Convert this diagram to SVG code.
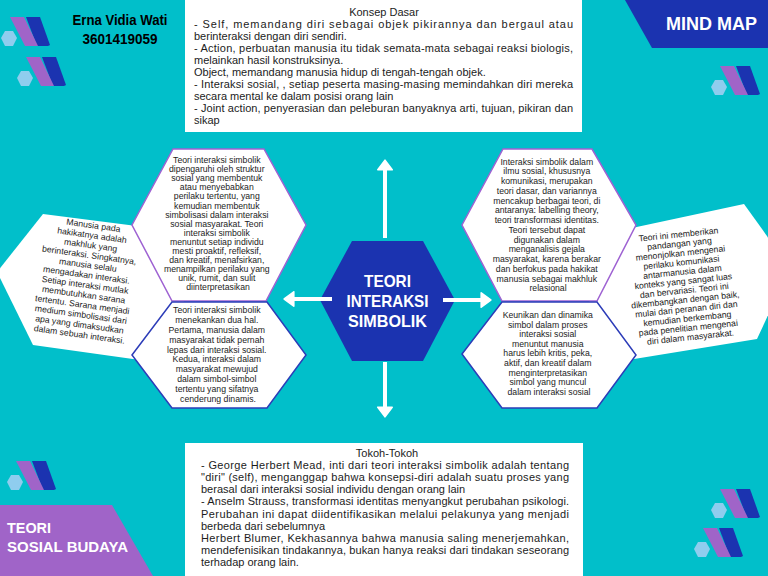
<svg xmlns="http://www.w3.org/2000/svg" width="768" height="576" viewBox="0 0 768 576">
<defs>
<style>
.hx{fill:#fff}
.hp{fill:#fff;stroke:#9E62D2;stroke-width:1.5}
.hb{fill:#fff;stroke:#2C3CB8;stroke-width:1.5}
.ht{font-family:"Liberation Sans",Arial,sans-serif;font-size:8.7px;fill:#1c1c1c;text-anchor:middle}
.bt{font-family:"Liberation Sans",Arial,sans-serif;font-size:11px;fill:#1c1c1c}
.wb{font-family:"Liberation Sans",Arial,sans-serif;font-weight:bold;fill:#fff}
.conn{stroke:#fff;stroke-width:4;fill:none;marker-end:url(#ah)}
</style>
<marker id="ah" viewBox="0 0 7 10" refX="1" refY="5" markerWidth="2.8" markerHeight="4" orient="auto" markerUnits="strokeWidth">
<path d="M0.5,0.5 L6.5,5 L0.5,9.5 Z" fill="#fff" stroke="#fff" stroke-width="1" stroke-linejoin="round"/>
</marker>
<g id="icon">
<polygon points="25,0 39,0 49,28 47,29 36,29" fill="#1B33B0"/>
<polygon points="0,21 4,14 12,14 16,21 12,29 4,29" fill="#8FCDEE"/>
<polygon points="9,0 23,0 37,29 24,29" fill="#A064C8"/>
</g>
</defs>
<rect width="768" height="576" fill="#01BFCA"/>

<g id="decor">
<use href="#icon" x="1" y="17"/>
<use href="#icon" x="17" y="57"/>
<use href="#icon" x="711" y="66"/>
<use href="#icon" x="7" y="461"/>
<use href="#icon" x="711" y="489"/>
<use href="#icon" x="694" y="528"/>
</g>

<g id="name">
<text x="120" y="25" font-family="Liberation Sans, Arial, sans-serif" font-weight="bold" font-size="14" text-anchor="middle" textLength="95" lengthAdjust="spacingAndGlyphs" fill="#000">Erna Vidia Wati</text>
<text x="120" y="44" font-family="Liberation Sans, Arial, sans-serif" font-weight="bold" font-size="14" text-anchor="middle" textLength="75" lengthAdjust="spacingAndGlyphs" fill="#000">3601419059</text>
</g>

<g id="mindmap-banner">
<polygon points="625,0 768,0 768,48 652,48" fill="#1B33B0"/>
<text class="wb" x="666" y="29.5" font-size="18" textLength="91" lengthAdjust="spacingAndGlyphs">MIND MAP</text>
</g>

<g id="sosial-banner">
<polygon points="0,505 112,505 153,576 0,576" fill="#A064C8"/>
<text class="wb" x="7" y="533" font-size="15" textLength="44" lengthAdjust="spacingAndGlyphs">TEORI</text>
<text class="wb" x="7" y="552" font-size="15" textLength="121" lengthAdjust="spacingAndGlyphs">SOSIAL BUDAYA</text>
</g>

<g id="node-far-left">
<polygon class="hx" points="-3,272 43,214 160,229 185,300 140,360 33,345"/>
<text class="ht" transform="rotate(8 87 280)">
<tspan x="87" y="228">Manusia pada</tspan>
<tspan x="87" y="238">hakikatnya adalah</tspan>
<tspan x="87" y="248">makhluk yang</tspan>
<tspan x="87" y="258">berinteraksi. Singkatnya,</tspan>
<tspan x="87" y="268">manusia selalu</tspan>
<tspan x="87" y="278">mengadakan interaksi.</tspan>
<tspan x="87" y="288">Setiap interaksi mutlak</tspan>
<tspan x="87" y="298">membutuhkan sarana</tspan>
<tspan x="87" y="308">tertentu. Sarana menjadi</tspan>
<tspan x="87" y="318">medium simbolisasi dari</tspan>
<tspan x="87" y="328">apa yang dimaksudkan</tspan>
<tspan x="87" y="338">dalam sebuah interaksi.</tspan>
</text>
</g>

<g id="node-far-right">
<polygon class="hx" points="588,300 618,231 744,204 790,268 757,339 628,360"/>
<text class="ht" transform="rotate(-6 685 285)">
<tspan x="685" y="237">Teori ini memberikan</tspan>
<tspan x="685" y="246.4">pandangan yang</tspan>
<tspan x="685" y="255.8">menonjolkan mengenai</tspan>
<tspan x="685" y="265.2">perilaku komunikasi</tspan>
<tspan x="685" y="274.6">antarmanusia dalam</tspan>
<tspan x="685" y="284">konteks yang sangat luas</tspan>
<tspan x="685" y="293.4">dan bervariasi. Teori ini</tspan>
<tspan x="685" y="302.8">dikembangkan dengan baik,</tspan>
<tspan x="685" y="312.2">mulai dari peranan diri dan</tspan>
<tspan x="685" y="321.6">kemudian berkembang</tspan>
<tspan x="685" y="331">pada penelitian mengenai</tspan>
<tspan x="685" y="340.4">diri dalam masyarakat.</tspan>
</text>
</g>

<g id="node-upper-left">
<polygon class="hp" points="132,225 173,149 264,149 306,225 266,301 172,301"/>
<text class="ht">
<tspan x="218" y="163">Teori interaksi simbolik</tspan>
<tspan x="218" y="172.1">dipengaruhi oleh struktur</tspan>
<tspan x="218" y="181.2">sosial yang membentuk</tspan>
<tspan x="218" y="190.3">atau menyebabkan</tspan>
<tspan x="218" y="199.4">perilaku tertentu, yang</tspan>
<tspan x="218" y="208.5">kemudian membentuk</tspan>
<tspan x="218" y="217.6">simbolisasi dalam interaksi</tspan>
<tspan x="218" y="226.7">sosial masyarakat. Teori</tspan>
<tspan x="218" y="235.8">interaksi simbolik</tspan>
<tspan x="218" y="244.9">menuntut setiap individu</tspan>
<tspan x="218" y="254">mesti proaktif, refleksif,</tspan>
<tspan x="218" y="263.1">dan kreatif, menafsirkan,</tspan>
<tspan x="218" y="272.2">menampilkan perilaku yang</tspan>
<tspan x="218" y="281.3">unik, rumit, dan sulit</tspan>
<tspan x="218" y="290.4">diinterpretasikan</tspan>
</text>
</g>

<g id="node-upper-right">
<polygon class="hp" points="462,225 503,149 592,149 636,225 597,301 502,301"/>
<text class="ht">
<tspan x="548" y="164.7">Interaksi simbolik dalam</tspan>
<tspan x="548" y="174.4">ilmu sosial, khususnya</tspan>
<tspan x="548" y="184.2">komunikasi, merupakan</tspan>
<tspan x="548" y="193.9">teori dasar, dan variannya</tspan>
<tspan x="548" y="203.7">mencakup berbagai teori, di</tspan>
<tspan x="548" y="213.4">antaranya: labelling theory,</tspan>
<tspan x="548" y="223.1">teori transformasi identitas.</tspan>
<tspan x="548" y="232.9">Teori tersebut dapat</tspan>
<tspan x="548" y="242.6">digunakan dalam</tspan>
<tspan x="548" y="252.4">menganalisis gejala</tspan>
<tspan x="548" y="262.1">masyarakat, karena berakar</tspan>
<tspan x="548" y="271.8">dan berfokus pada hakikat</tspan>
<tspan x="548" y="281.6">manusia sebagai makhluk</tspan>
<tspan x="548" y="291.3">relasional</tspan>
</text>
</g>

<g id="node-lower-left">
<polygon class="hb" points="132,355 172,302 267,302 306,355 267,408 172,408"/>
<text class="ht">
<tspan x="218" y="313.3">Teori interaksi simbolik</tspan>
<tspan x="218" y="323.1">menekankan dua hal.</tspan>
<tspan x="218" y="332.9">Pertama, manusia dalam</tspan>
<tspan x="218" y="342.7">masyarakat tidak pernah</tspan>
<tspan x="218" y="352.5">lepas dari interaksi sosial.</tspan>
<tspan x="218" y="362.3">Kedua, interaksi dalam</tspan>
<tspan x="218" y="372.1">masyarakat mewujud</tspan>
<tspan x="218" y="381.9">dalam simbol-simbol</tspan>
<tspan x="218" y="391.7">tertentu yang sifatnya</tspan>
<tspan x="218" y="401.5">cenderung dinamis.</tspan>
</text>
</g>

<g id="node-lower-right">
<polygon class="hb" points="462,354 502,302 597,302 636,355 597,408 502,408"/>
<text class="ht">
<tspan x="549" y="318">Keunikan dan dinamika</tspan>
<tspan x="549" y="327.6">simbol dalam proses</tspan>
<tspan x="549" y="337.2">interaksi sosial</tspan>
<tspan x="549" y="346.8">menuntut manusia</tspan>
<tspan x="549" y="356.4">harus lebih kritis, peka,</tspan>
<tspan x="549" y="366">aktif, dan kreatif dalam</tspan>
<tspan x="549" y="375.6">menginterpretasikan</tspan>
<tspan x="549" y="385.2">simbol yang muncul</tspan>
<tspan x="549" y="394.8">dalam interaksi sosial</tspan>
</text>
</g>

<g id="node-center">
<polygon points="320,300 352,241 423,241 455,300 423,361 352,361" fill="#1B33B0"/>
<text class="wb" x="387.5" y="287" font-size="17" text-anchor="middle" textLength="47" lengthAdjust="spacingAndGlyphs">TEORI</text>
<text class="wb" x="387.5" y="307" font-size="17" text-anchor="middle" textLength="82" lengthAdjust="spacingAndGlyphs">INTERAKSI</text>
<text class="wb" x="387.5" y="326.5" font-size="17" text-anchor="middle" textLength="79" lengthAdjust="spacingAndGlyphs">SIMBOLIK</text>
</g>

<g id="connectors">
<line class="conn" x1="385" y1="238" x2="385" y2="169"/>
<line class="conn" x1="385" y1="362" x2="385" y2="408"/>
<line class="conn" x1="332" y1="299" x2="293" y2="299"/>
<line class="conn" x1="443" y1="300" x2="482" y2="300"/>
</g>

<g id="node-konsep-dasar">
<rect x="185" y="0" width="397" height="132" fill="#fff"/>
<text class="bt" x="384" y="16" text-anchor="middle">Konsep Dasar</text>
<text class="bt" x="194" y="27.5" textLength="379" lengthAdjust="spacing">- Self, memandang diri sebagai objek pikirannya dan bergaul atau</text>
<text class="bt" x="194" y="39.5">berinteraksi dengan diri sendiri.</text>
<text class="bt" x="194" y="51.5" textLength="379" lengthAdjust="spacing">- Action, perbuatan manusia itu tidak semata-mata sebagai reaksi biologis,</text>
<text class="bt" x="194" y="63.5">melainkan hasil konstruksinya.</text>
<text class="bt" x="194" y="75.5">Object, memandang manusia hidup di tengah-tengah objek.</text>
<text class="bt" x="194" y="88" textLength="379" lengthAdjust="spacing">- Interaksi sosial, , setiap peserta masing-masing memindahkan diri mereka</text>
<text class="bt" x="194" y="100">secara mental ke dalam posisi orang lain</text>
<text class="bt" x="194" y="112" textLength="379" lengthAdjust="spacing">- Joint action, penyerasian dan peleburan banyaknya arti, tujuan, pikiran dan</text>
<text class="bt" x="194" y="124">sikap</text>
</g>

<g id="node-tokoh">
<rect x="185" y="443" width="398" height="133" fill="#fff"/>
<text class="bt" x="387" y="457" text-anchor="middle">Tokoh-Tokoh</text>
<text class="bt" x="201" y="469.1" textLength="368" lengthAdjust="spacing">- George Herbert Mead, inti dari teori interaksi simbolik adalah tentang</text>
<text class="bt" x="201" y="481.2" textLength="368" lengthAdjust="spacing">"diri" (self), menganggap bahwa konsepsi-diri adalah suatu proses yang</text>
<text class="bt" x="201" y="493.3">berasal dari interaksi sosial individu dengan orang lain</text>
<text class="bt" x="201" y="505.4" textLength="368" lengthAdjust="spacing">- Anselm Strauss, transformasi identitas menyangkut perubahan psikologi.</text>
<text class="bt" x="201" y="517.5" textLength="368" lengthAdjust="spacing">Perubahan ini dapat diidentifikasikan melalui pelakunya yang menjadi</text>
<text class="bt" x="201" y="529.6">berbeda dari sebelumnya</text>
<text class="bt" x="201" y="541.7" textLength="368" lengthAdjust="spacing">Herbert Blumer, Kekhasannya bahwa manusia saling menerjemahkan,</text>
<text class="bt" x="201" y="553.8" textLength="368" lengthAdjust="spacing">mendefenisikan tindakannya, bukan hanya reaksi dari tindakan seseorang</text>
<text class="bt" x="201" y="565.9">terhadap orang lain.</text>
</g>
</svg>
